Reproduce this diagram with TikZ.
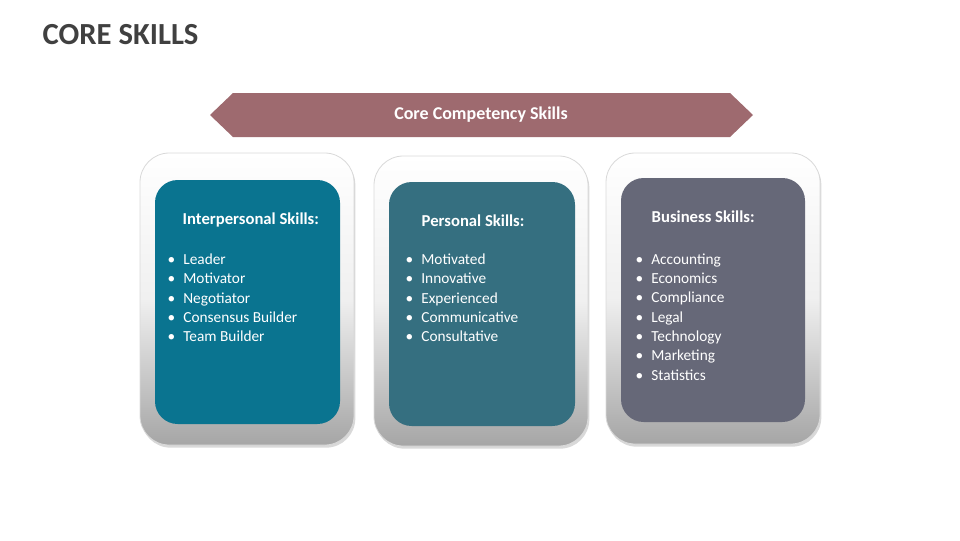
\documentclass[tikz,border=0pt]{standalone}
\usepackage{fontspec}
\setmainfont{Carlito}
\usetikzlibrary{shadows}
\definecolor{titlegray}{HTML}{404040}
\definecolor{banner}{HTML}{9E6A6F}
\definecolor{cA}{HTML}{0A7490}
\definecolor{cB}{HTML}{356F80}
\definecolor{cC}{HTML}{666878}
\tikzset{
 outerbox/.style={rounded corners=22pt, top color=white, bottom color=black!35, middle color=black!6, draw=black!15, line width=0.6pt, drop shadow={shadow xshift=1pt,shadow yshift=-2pt,opacity=0.3}},
 innerbox/.style={rounded corners=17pt, draw=none},
 head/.style={text=white, font=\bfseries\fontsize{12.5}{15}\selectfont, anchor=west},
 items/.style={text=white, font=\fontsize{11.5}{14.5}\selectfont, anchor=north west, align=left},
}
\newcommand{\bl}{\textbullet\hspace{6pt}}
\begin{document}
\begin{tikzpicture}[x=0.75pt,y=-0.75pt]
\useasboundingbox (0,0) rectangle (960,540);
\node[anchor=west, text=titlegray, font=\bfseries\fontsize{23}{26}\selectfont] (title) at (38,35) {CORE SKILLS};
\fill[banner] (210,115) -- (233,93) -- (730,93) -- (753,115) -- (730,137) -- (233,137) -- cycle;
\node[text=white, font=\bfseries\fontsize{13.5}{16}\selectfont] (bannertext) at (481,115) {Core Competency Skills};
\draw[outerbox] (140,153) rectangle (354,445);
\draw[outerbox] (374,156) rectangle (588,446);
\draw[outerbox] (606,153) rectangle (820,444);
\fill[innerbox, cA] (155,180) rectangle (340,424);
\fill[innerbox, cB] (389,182) rectangle (575,426);
\fill[innerbox, cC] (621,178) rectangle (805,422);
\node[head] (h1) at (178,220) {Interpersonal Skills:};
\node[head] (h2) at (417,221) {Personal Skills:};
\node[head] (h3) at (647,217) {Business Skills:};
\node[items] (l1) at (163,249) {\bl Leader\\ \bl Motivator\\ \bl Negotiator\\ \bl Consensus Builder\\ \bl Team Builder};
\node[items] (l2) at (401,249) {\bl Motivated\\ \bl Innovative\\ \bl Experienced\\ \bl Communicative\\ \bl Consultative};
\node[items] (l3) at (631,249) {\bl Accounting\\ \bl Economics\\ \bl Compliance\\ \bl Legal\\ \bl Technology\\ \bl Marketing\\ \bl Statistics};
\end{tikzpicture}
\end{document}
